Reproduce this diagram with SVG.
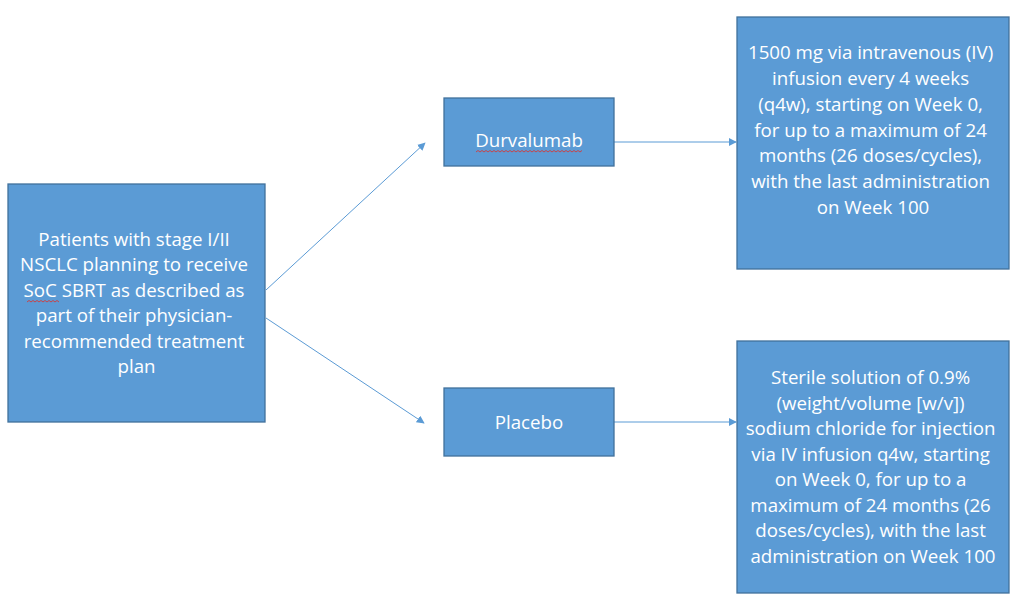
<svg xmlns="http://www.w3.org/2000/svg" width="1024" height="609" viewBox="0 0 1024 609">
<style>
.box{fill:#5B9BD5;stroke:#41719C;stroke-width:1.3}
.t{font-family:"Open Sans","Liberation Sans",sans-serif;font-size:18.7px;fill:#FFFFFF;text-anchor:middle}
.c{stroke:#5B9BD5;stroke-width:1;fill:none}
.sq{stroke:#D23A3A;stroke-width:0.9;fill:none}
</style>
<defs>
<marker id="ah" viewBox="0 0 10 10" refX="9" refY="5" markerWidth="8" markerHeight="8" markerUnits="userSpaceOnUse" orient="auto">
<path d="M0,0 L10,5 L0,10 Z" fill="#5B9BD5"/>
</marker>
</defs>
<rect width="1024" height="609" fill="#FFFFFF"/>
<g id="connectors">
<line class="c" x1="266" y1="290" x2="425" y2="143" marker-end="url(#ah)"/>
<line class="c" x1="266" y1="318" x2="424" y2="423" marker-end="url(#ah)"/>
<line class="c" x1="614" y1="142" x2="736" y2="142" marker-end="url(#ah)"/>
<line class="c" x1="614" y1="422" x2="736" y2="422" marker-end="url(#ah)"/>
</g>
<g id="patients">
<rect class="box" x="8" y="184" width="257" height="238"/>
<text class="t">
<tspan x="136.5" y="246">Patients with stage I/II</tspan>
<tspan x="136.5" y="271">NSCLC planning to receive</tspan>
<tspan x="136.5" y="297">SoC SBRT as described as</tspan>
<tspan x="136.5" y="322">part of their physician-</tspan>
<tspan x="136.5" y="348">recommended treatment</tspan>
<tspan x="136.5" y="373">plan</tspan>
</text>
<path class="sq" d="M27,302 l2,-1.5 l2,1.5 l2,-1.5 l2,1.5 l2,-1.5 l2,1.5 l2,-1.5 l2,1.5 l2,-1.5 l2,1.5 l2,-1.5 l2,1.5 l2,-1.5 l2,1.5 l2,-1.5 l2,1.5"/>
</g>
<g id="durvalumab">
<rect class="box" x="444" y="98" width="170" height="68"/>
<text class="t" x="529" y="147">Durvalumab</text>
<path class="sq" d="M476,152 l2,-1.5 l2,1.5 l2,-1.5 l2,1.5 l2,-1.5 l2,1.5 l2,-1.5 l2,1.5 l2,-1.5 l2,1.5 l2,-1.5 l2,1.5 l2,-1.5 l2,1.5 l2,-1.5 l2,1.5 l2,-1.5 l2,1.5 l2,-1.5 l2,1.5 l2,-1.5 l2,1.5 l2,-1.5 l2,1.5 l2,-1.5 l2,1.5 l2,-1.5 l2,1.5 l2,-1.5 l2,1.5 l2,-1.5 l2,1.5 l2,-1.5 l2,1.5 l2,-1.5 l2,1.5 l2,-1.5 l2,1.5 l2,-1.5 l2,1.5 l2,-1.5 l2,1.5 l2,-1.5 l2,1.5 l2,-1.5 l2,1.5 l2,-1.5 l2,1.5 l2,-1.5 l2,1.5 l2,-1.5 l2,1.5 l2,-1.5"/>
</g>
<g id="placebo">
<rect class="box" x="444" y="388" width="170" height="68"/>
<text class="t" x="529" y="429">Placebo</text>
</g>
<g id="durvalumab-dose">
<rect class="box" x="737" y="17" width="272" height="252"/>
<text class="t">
<tspan x="873" y="59">1500 mg via intravenous (IV)</tspan>
<tspan x="873" y="85">infusion every 4 weeks</tspan>
<tspan x="873" y="111">(q4w), starting on Week 0,</tspan>
<tspan x="873" y="137">for up to a maximum of 24</tspan>
<tspan x="873" y="162">months (26 doses/cycles),</tspan>
<tspan x="873" y="188">with the last administration</tspan>
<tspan x="873" y="214">on Week 100</tspan>
</text>
</g>
<g id="placebo-dose">
<rect class="box" x="737" y="341" width="272" height="252"/>
<text class="t">
<tspan x="873" y="384">Sterile solution of 0.9%</tspan>
<tspan x="873" y="410">(weight/volume [w/v])</tspan>
<tspan x="873" y="435">sodium chloride for injection</tspan>
<tspan x="873" y="461">via IV infusion q4w, starting</tspan>
<tspan x="873" y="486">on Week 0, for up to a</tspan>
<tspan x="873" y="512">maximum of 24 months (26</tspan>
<tspan x="873" y="537">doses/cycles), with the last</tspan>
<tspan x="873" y="563">administration on Week 100</tspan>
</text>
</g>
</svg>
